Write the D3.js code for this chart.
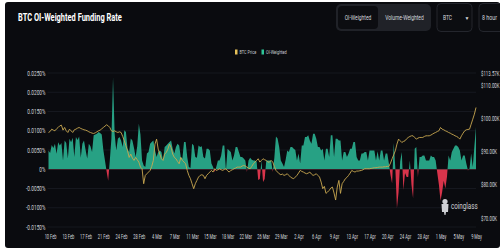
<!DOCTYPE html>
<html>
<head>
<meta charset="utf-8">
<script src="https://cdn.jsdelivr.net/npm/d3@7"></script>
<style>
  body { margin: 0; background: #fff; }
  svg { display: block; font-family: Roboto, "Liberation Sans", sans-serif; }
</style>
</head>
<body>
<div id="chart"></div>
<script>
// x axis labels, one every 11 points (8h points, first point = 9 Feb 16:00)
const tickLabels = ["10 Feb","13 Feb","17 Feb","21 Feb","24 Feb","28 Feb","4 Mar","7 Mar","11 Mar","15 Mar",
  "18 Mar","22 Mar","26 Mar","29 Mar","2 Apr","6 Apr","9 Apr","13 Apr","17 Apr","20 Apr","24 Apr","28 Apr",
  "1 May","5 May","9 May"];

// OI-weighted funding rate, %
const fundingRate = [
  0.0049,0.0042,0.0063,0.0055,0.0066,0.0040,0.0070,0.0062,0.0068,0.0023,0.0075,
  0.0068,0.0028,0.0079,0.0070,0.0082,0.0032,0.0084,0.0076,0.0085,0.0030,0.0066,
  0.0075,0.0050,0.0028,0.0066,0.0060,0.0045,0.0088,0.0090,0.0092,0.0097,0.0094,
  0.0090,0.0050,0.0023,-0.0005,-0.0030,0.0023,0.0080,0.0239,0.0092,0.0049,0.0079,
  0.0084,0.0075,0.0058,0.0101,0.0097,0.0053,0.0045,0.0080,0.0075,0.0055,0.0032,
  0.0060,0.0118,0.0090,0.0023,0.0010,0.0006,0.0041,0.0045,0.0066,0.0071,0.0075,
  0.0050,0.0032,0.0045,0.0049,0.0045,0.0023,0.0058,0.0062,0.0066,0.0071,0.0075,
  0.0053,0.0041,0.0058,0.0066,0.0062,0.0032,0.0028,0.0071,0.0071,0.0032,0.0006,
  0.0003,0.0066,0.0062,0.0032,0.0030,0.0062,0.0058,0.0060,0.0032,0.0028,0.0053,
  0.0053,0.0049,0.0015,0.0006,-0.0007,0.0006,0.0023,0.0023,0.0035,0.0062,0.0062,
  -0.0003,0.0053,0.0049,0.0045,0.0023,0.0036,0.0058,0.0058,0.0045,0.0032,0.0032,
  0.0028,0.0023,-0.0007,0.0023,0.0030,0.0025,0.0023,0.0023,0.0020,-0.0028,-0.0025,
  0.0023,-0.0033,-0.0025,0.0023,0.0023,0.0023,0.0023,-0.0007,0.0030,0.0085,0.0080,
  0.0058,0.0023,0.0015,0.0006,0.0025,0.0049,0.0045,0.0058,0.0058,0.0053,0.0050,
  0.0023,0.0041,0.0015,0.0062,0.0062,0.0084,0.0084,0.0088,0.0075,0.0066,0.0092,
  0.0092,0.0079,0.0058,0.0058,0.0049,0.0053,0.0023,0.0053,0.0053,0.0032,0.0088,
  0.0088,0.0032,0.0079,0.0079,0.0075,0.0075,0.0023,0.0045,0.0045,0.0032,0.0041,
  0.0053,0.0053,0.0071,0.0071,0.0032,0.0023,0.0023,0.0041,0.0041,0.0045,0.0045,
  0.0023,0.0049,0.0049,0.0049,0.0049,0.0023,0.0047,0.0023,0.0049,0.0049,0.0023,
  0.0041,0.0041,0.0015,-0.0015,-0.0037,0.0068,0.0003,-0.0101,-0.0060,0.0020,0.0045,
  -0.0054,-0.0010,-0.0020,-0.0020,0.0023,-0.0040,-0.0075,0.0053,0.0058,-0.0020,0.0032,
  0.0032,0.0036,0.0036,0.0023,0.0023,0.0023,0.0036,0.0032,0.0032,0.0023,-0.0010,
  -0.0040,-0.0082,-0.0060,-0.0030,-0.0050,-0.0020,0.0036,0.0023,0.0045,0.0053,0.0062,
  0.0062,0.0058,0.0049,0.0023,0.0036,0.0036,0.0015,-0.0003,0.0002,0.0041,0.0006,
  0.0060,0.0110
];

// BTC price, thousand USD
const btcPrice = [
  95.7,96.0,96.7,96.4,96.2,96.8,97.2,97.7,97.9,96.4,97.2,
  96.2,95.7,96.7,96.2,95.7,96.5,96.7,97.0,97.2,96.9,96.7,
  96.5,96.4,96.2,95.9,95.7,95.5,95.4,95.6,95.9,96.2,96.4,
  96.8,97.2,97.6,98.0,97.7,97.2,96.2,96.0,96.2,95.9,95.7,
  95.9,95.7,94.5,93.2,91.7,90.2,88.2,89.2,88.0,87.3,88.2,
  87.5,86.8,85.3,84.8,80.3,82.8,83.3,83.8,84.3,85.5,87.3,
  92.2,93.7,90.7,89.2,87.8,87.3,89.2,89.7,90.7,92.2,91.2,
  89.2,88.2,87.8,87.0,86.3,88.2,87.3,86.8,86.3,84.3,82.8,
  81.8,80.3,78.8,80.3,81.3,82.3,82.8,83.0,82.8,81.8,82.8,
  83.3,83.8,84.3,83.8,84.8,84.3,84.5,84.8,84.5,84.3,84.6,
  84.8,84.2,83.8,84.3,84.5,84.8,85.0,85.3,85.3,85.3,85.6,
  85.8,85.6,85.3,85.0,84.8,85.5,86.3,86.8,87.3,87.8,86.8,
  87.3,87.8,87.5,87.3,86.8,86.8,87.3,86.8,85.5,84.3,83.8,
  83.3,83.0,83.2,82.8,83.0,83.3,82.8,82.3,82.0,81.8,82.3,
  82.8,83.5,84.3,84.0,83.8,83.5,83.3,83.5,83.8,83.2,82.8,
  83.0,83.3,82.8,82.3,80.8,78.8,79.5,77.4,77.8,78.3,79.0,
  79.3,77.5,75.4,79.3,81.3,77.4,80.3,81.0,81.8,82.2,82.8,
  83.5,84.3,84.0,83.8,84.1,84.1,84.2,84.3,84.5,84.8,84.8,
  84.8,84.8,84.9,85.0,85.1,85.1,85.2,85.3,85.3,85.3,85.4,
  85.4,85.5,85.5,86.5,87.8,89.0,90.2,92.2,93.7,93.2,92.7,
  93.0,93.2,93.8,94.2,94.5,94.7,94.7,94.2,93.7,94.0,94.2,
  94.2,94.2,94.5,94.7,94.7,94.7,94.9,95.2,95.5,95.7,96.0,
  96.2,97.2,96.7,96.5,96.2,96.0,95.7,95.5,95.2,95.0,94.7,
  94.5,94.2,93.7,94.7,95.5,96.2,96.5,96.6,96.7,98.2,99.7,
  101.2,103.2
];

const rateTicks = [0.025, 0.02, 0.015, 0.01, 0.005, 0, -0.005, -0.01, -0.015];
const rateTickLabels = ["0.0250%","0.0200%","0.0150%","0.0100%","0.0050%","0%","-0.0050%","-0.0100%","-0.0150%"];
const priceTicks = [113.57, 110, 100, 90, 80, 70];
const priceTickLabels = ["$113.57K","$110.00K","$100.00K","$90.00K","$80.00K","$70.00K"];

const W = 500, H = 252;
const plot = { left: 48.5, right: 476, top: 73, bottom: 227 };

// squeeze text horizontally around its own anchor (the reference uses a narrow face)
function squeeze(sel, k) {
  sel.each(function () {
    const x0 = +(this.getAttribute("x") || 0);
    d3.select(this).attr("transform", `translate(${x0 * (1 - k)},0) scale(${k},1)`);
  });
}
// squeeze a group of labels so the widest one gets the given width
function squeezeTo(sel, target) {
  let max = 0;
  sel.each(function () { max = Math.max(max, this.getComputedTextLength()); });
  squeeze(sel, target / max);
}

const svg = d3.select("#chart").append("svg")
  .attr("width", W)
  .attr("height", H);

svg.append("rect")
  .attr("x", 5).attr("y", 2)
  .attr("width", W - 5).attr("height", 246)
  .attr("rx", 3)
  .attr("fill", "#0a0b0f");

// title
svg.append("text")
  .attr("x", 18).attr("y", 21)
  .attr("fill", "#ffffff")
  .style("font-size", "11px")
  .style("font-weight", "bold")
  .text("BTC OI-Weighted Funding Rate")
  .call(squeezeTo, 104);

// controls at top right
const ctrl = svg.append("g").style("font-size", "7px").attr("fill", "#d6d8de");
ctrl.append("rect").attr("x", 336).attr("y", 4).attr("width", 95).attr("height", 27).attr("rx", 5).attr("fill", "#202228");
ctrl.append("rect").attr("x", 338).attr("y", 6).attr("width", 40).attr("height", 23).attr("rx", 4).attr("fill", "#0c0d11");
ctrl.append("text").attr("x", 358).attr("y", 20).attr("text-anchor", "middle").text("OI-Weighted").call(squeeze, 0.7);
ctrl.append("text").attr("x", 404.5).attr("y", 20).attr("text-anchor", "middle").text("Volume-Weighted").call(squeeze, 0.7);
ctrl.append("rect").attr("x", 437).attr("y", 3.5).attr("width", 35).attr("height", 28).attr("rx", 4)
  .attr("fill", "#0c0d11").attr("stroke", "#24262d");
ctrl.append("text").attr("x", 443).attr("y", 20).text("BTC").call(squeeze, 0.7);
ctrl.append("text").attr("x", 467).attr("y", 19.5).attr("text-anchor", "middle").style("font-size", "5px").text("▼");
ctrl.append("rect").attr("x", 479).attr("y", 3.5).attr("width", 30).attr("height", 28).attr("rx", 4)
  .attr("fill", "#0c0d11").attr("stroke", "#24262d");
ctrl.append("text").attr("x", 482).attr("y", 20).text("8 hour").call(squeezeTo, 15);

// scales
const x = d3.scaleLinear().domain([0, btcPrice.length - 1]).range([plot.left, plot.right]);
const y = d3.scaleLinear().domain([-0.015, 0.025]).range([plot.bottom, plot.top]);
const yPrice = d3.scaleLinear().domain([70 - 9 / 3.328, 113.57]).range([plot.bottom, plot.top]);

// grid
svg.append("g")
  .selectAll("line")
  .data(rateTicks)
  .join("line")
    .attr("x1", plot.left - 1).attr("x2", plot.right)
    .attr("y1", d => y(d)).attr("y2", d => y(d))
    .attr("stroke", "#1b1e27")
    .attr("stroke-width", 0.7);

// left axis
const axL = svg.append("g")
  .attr("transform", `translate(45.5,0)`)
  .call(d3.axisLeft(y).tickValues(rateTicks).tickSize(0).tickPadding(0)
    .tickFormat((d, i) => rateTickLabels[i]));
axL.select(".domain").remove();
axL.selectAll("text").attr("fill", "#d4d6db").style("font-size", "7px").style("font-family", "Roboto, sans-serif")
  .call(squeezeTo, 19.5);

// right axis
const axR = svg.append("g")
  .attr("transform", `translate(481,0)`)
  .call(d3.axisRight(yPrice).tickValues(priceTicks).tickSize(0).tickPadding(0)
    .tickFormat((d, i) => priceTickLabels[i]));
axR.select(".domain").remove();
axR.selectAll("text").attr("fill", "#d4d6db").style("font-size", "7px").style("font-family", "Roboto, sans-serif")
  .call(squeezeTo, 18.5);

// bottom axis
const axB = svg.append("g")
  .attr("transform", `translate(0,${plot.bottom + 7})`)
  .call(d3.axisBottom(x).tickValues(tickLabels.map((d, i) => 1 + i * 11)).tickSize(0).tickPadding(0)
    .tickFormat((d, i) => tickLabels[i]));
axB.select(".domain").remove();
axB.selectAll("text").attr("fill", "#d4d6db").style("font-size", "6.5px").style("font-family", "Roboto, sans-serif")
  .call(squeezeTo, 12.5);

// funding area, green above zero and red below
const defs = svg.append("defs");
defs.append("clipPath").attr("id", "above")
  .append("rect").attr("x", 0).attr("y", 0).attr("width", W).attr("height", y(0));
defs.append("clipPath").attr("id", "below")
  .append("rect").attr("x", 0).attr("y", y(0)).attr("width", W).attr("height", H - y(0));

const area = d3.area()
  .x((d, i) => x(i))
  .y0(y(0))
  .y1(d => y(d));

svg.append("path")
  .datum(fundingRate)
  .attr("clip-path", "url(#above)")
  .attr("fill", "#27a184")
  .attr("d", area);
svg.append("path")
  .datum(fundingRate)
  .attr("clip-path", "url(#below)")
  .attr("fill", "#d8344b")
  .attr("d", area);

// BTC price line
svg.append("path")
  .datum(btcPrice)
  .attr("fill", "none")
  .attr("stroke", "#c9a850")
  .attr("stroke-width", 0.9)
  .attr("d", d3.line().x((d, i) => x(i)).y(d => yPrice(d)));

// legend
const legend = svg.append("g").style("font-size", "5.5px").attr("fill", "#c9cbd1");
legend.append("rect").attr("x", 235).attr("y", 49.5).attr("width", 2.5).attr("height", 5).attr("fill", "#e6c15a");
legend.append("text").attr("x", 239.5).attr("y", 54).text("BTC Price").call(squeeze, 0.7);
legend.append("rect").attr("x", 261.5).attr("y", 49.5).attr("width", 2.5).attr("height", 5).attr("fill", "#2ec597");
legend.append("text").attr("x", 266).attr("y", 54).text("OI-Weighted").call(squeeze, 0.7);

// watermark
const wm = svg.append("g").attr("fill", "#d0d1d5");
wm.append("circle").attr("cx", 445).attr("cy", 201.5).attr("r", 2.6);
wm.append("path").attr("d", "M441.5,204 L448.5,204 L448,212 L446,212 L445.5,215 L444.5,215 L444,212 L442,212 Z");
wm.append("text").attr("x", 451).attr("y", 209.5).style("font-size", "9.5px").text("coinglass").call(squeeze, 0.66);
</script>
</body>
</html>
